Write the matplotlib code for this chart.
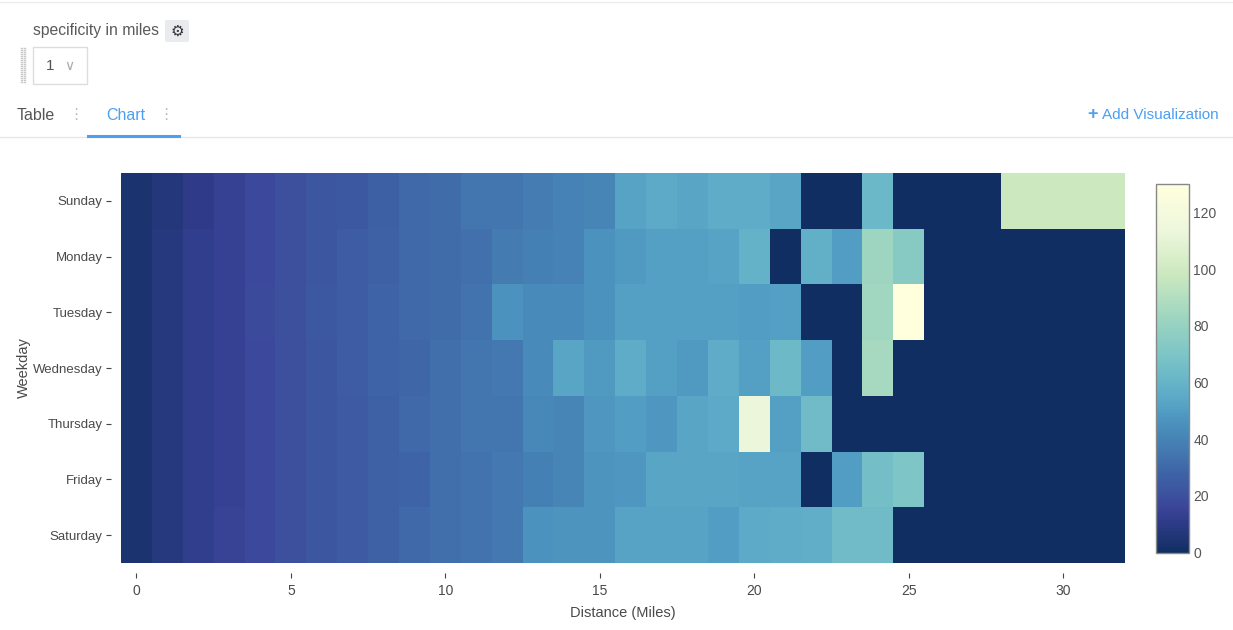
import matplotlib
matplotlib.use("Agg")
import matplotlib.pyplot as plt
import numpy as np
from matplotlib.colors import LinearSegmentedColormap
from matplotlib.patches import Rectangle, FancyBboxPatch

plt.rcParams['font.family'] = ['Liberation Sans', 'DejaVu Sans']

# ---------------- data ----------------
weekdays = ["Sunday", "Monday", "Tuesday", "Wednesday", "Thursday", "Friday", "Saturday"]
distances = list(range(27)) + [30]

sunday    = [4, 7, 11, 14, 17, 20, 22, 23, 26, 30, 31, 35, 35, 38, 40, 41, 52, 55, 53, 56, 56, 53, 0, 0, 62, 0, 0, 98]
monday    = [4, 8, 12, 14, 17, 20, 22, 25, 27, 30, 31, 33, 37, 39, 40, 46, 49, 51, 51, 52, 59, 0, 58, 50, 83, 74, 0, 0]
tuesday   = [4, 8, 12, 14, 18, 20, 23, 25, 28, 30, 31, 34, 46, 43, 43, 46, 51, 51, 51, 51, 50, 51, 0, 0, 84, 130, 0, 0]
wednesday = [4, 8, 12, 14, 17, 20, 22, 25, 28, 29, 32, 35, 36, 43, 53, 49, 56, 51, 49, 56, 51, 63, 50, 0, 86, 0, 0, 0]
thursday  = [4, 8, 12, 14, 17, 20, 22, 24, 27, 30, 32, 35, 35, 42, 41, 48, 50, 48, 53, 55, 113, 51, 64, 0, 0, 0, 0, 0]
friday    = [4, 8, 12, 14, 17, 20, 22, 24, 27, 28, 32, 34, 36, 39, 41, 47, 48, 53, 53, 53, 52, 52, 0, 50, 66, 70, 0, 0]
saturday  = [4, 8, 12, 15, 17, 20, 22, 24, 27, 30, 32, 34, 36, 46, 47, 47, 52, 52, 52, 50, 55, 56, 57, 64, 64, 0, 0, 0]

x_ticks = [0, 5, 10, 15, 20, 25, 30]
cbar_ticks = [0, 20, 40, 60, 80, 100, 120]
vmax = 130

z = np.array([sunday, monday, tuesday, wednesday, thursday, friday, saturday], dtype=float)

# cell edges from centres (midpoints, ends extended by half gap)
xc = np.array(distances, dtype=float)
xe = np.concatenate([[1.5 * xc[0] - 0.5 * xc[1]], (xc[:-1] + xc[1:]) / 2, [1.5 * xc[-1] - 0.5 * xc[-2]]])
ye = np.arange(len(weekdays) + 1) - 0.5

# colour scale
stops = [
    (0, (17, 46, 99)), (6, (34, 54, 120)), (12, (50, 61, 142)), (17, (60, 72, 155)),
    (22, (60, 86, 160)), (28, (62, 99, 166)), (34, (67, 116, 174)), (40, (70, 131, 181)),
    (46, (75, 146, 190)), (52, (86, 163, 198)), (60, (102, 180, 200)), (70, (125, 197, 198)),
    (82, (155, 212, 193)), (98, (203, 232, 191)), (114, (238, 247, 220)), (130, (255, 255, 222)),
]
cmap = LinearSegmentedColormap.from_list(
    "ref", [(v / 130.0, tuple(c / 255.0 for c in col)) for v, col in stops])

# ---------------- figure ----------------
W, H = 1233, 630
fig = plt.figure(figsize=(W / 100, H / 100), dpi=100)
fig.patch.set_facecolor("white")

def fx(px):
    return px / W

def fy(py):
    return 1 - py / H

# UI header
blue = "#4d9ff0"
fig.add_artist(plt.Line2D([0, 1], [fy(2), fy(2)], color="#ececec", lw=1))
fig.text(fx(33), fy(31), "specificity in miles", fontsize=11.3, color="#5a5a5a", va="center", ha="left")
fig.add_artist(FancyBboxPatch((fx(165), fy(42)), fx(24), 22 / H, boxstyle="round,pad=0,rounding_size=0.002",
                              facecolor="#e9ebee", edgecolor="none", transform=fig.transFigure))
fig.text(fx(177), fy(31), "\u2699", fontsize=11, color="#333333", va="center", ha="center", family="DejaVu Sans")
fig.add_artist(Rectangle((fx(33), fy(84)), fx(54), 37 / H, facecolor="white", edgecolor="#dddddd",
                         lw=1, transform=fig.transFigure))
for xx in (21, 23.5):
    for yy in np.arange(48, 84, 2):
        fig.add_artist(plt.Line2D([fx(xx), fx(xx + 1.2)], [fy(yy), fy(yy)], color="#c8c8c8", lw=1))
fig.text(fx(50), fy(66), "1", fontsize=11, color="#555555", va="center", ha="center")
fig.text(fx(69), fy(66), "\u2228", fontsize=10, color="#aaaaaa", va="center", ha="center", family="DejaVu Sans")
fig.text(fx(17), fy(115), "Table", fontsize=11.5, color="#555555", va="center", ha="left")
fig.text(fx(76), fy(115), "\u22ee", fontsize=11, color="#bbbbbb", va="center", ha="center", family="DejaVu Sans")
fig.text(fx(106), fy(115), "Chart", fontsize=11.5, color=blue, va="center", ha="left")
fig.text(fx(166), fy(115), "\u22ee", fontsize=11, color="#bbbbbb", va="center", ha="center", family="DejaVu Sans")
fig.text(fx(1219), fy(115), "Add Visualization", fontsize=11, color=blue, va="center", ha="right")
fig.text(fx(1093), fy(115), "+", fontsize=13, color=blue, va="center", ha="center", fontweight="bold")
fig.add_artist(plt.Line2D([0, 1], [fy(137), fy(137)], color="#e6e6e6", lw=1))
fig.add_artist(plt.Line2D([fx(88), fx(179)], [fy(136), fy(136)], color=blue, lw=2.2))

# heatmap axes
ax = fig.add_axes([fx(121), fy(563), fx(1125 - 121), (563 - 173) / H])
mesh = ax.pcolormesh(xe, ye, z, cmap=cmap, vmin=0, vmax=vmax, shading="flat", edgecolors="none",
                     antialiased=False)
ax.set_xlim(xe[0], xe[-1])
ax.set_ylim(ye[-1], ye[0])
for s in ax.spines.values():
    s.set_visible(False)
ax.spines["bottom"].set_position(("outward", 7))
ax.spines["left"].set_position(("outward", 7))
ax.set_xticks(x_ticks)
ax.set_xticklabels([str(t) for t in x_ticks])
ax.set_yticks(range(len(weekdays)))
ax.set_yticklabels(weekdays)
ax.tick_params(axis="both", length=3.8, width=0.8, color="#444444", labelcolor="#4a4a4a", labelsize=9.5)
ax.tick_params(axis="x", pad=4, labelsize=10)
ax.tick_params(axis="y", pad=2.5)
ax.set_xlabel("Distance (Miles)", fontsize=10.5, color="#4a4a4a", labelpad=6)
ax.set_ylabel("Weekday", fontsize=10.5, color="#4a4a4a", labelpad=1.5)

# colorbar
cax = fig.add_axes([fx(1156), fy(552.7), fx(33), (552.7 - 184) / H])
cb = fig.colorbar(mesh, cax=cax, ticks=cbar_ticks)
cb.outline.set_edgecolor("#888888")
cb.outline.set_linewidth(1)
cax.tick_params(length=0, pad=3, labelsize=10, labelcolor="#555555")

fig.savefig("out.png", dpi=100, facecolor="white")
